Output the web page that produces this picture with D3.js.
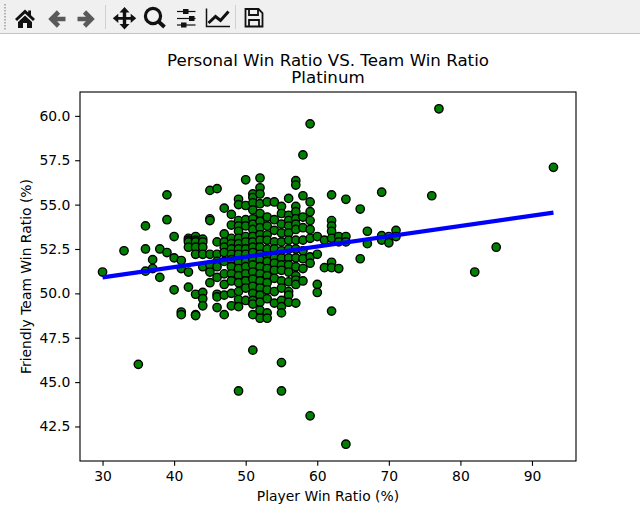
<!DOCTYPE html>
<html>
<head>
<meta charset="utf-8">
<script src="https://cdn.jsdelivr.net/npm/d3@7"></script>
<style>
    html, body { margin: 0; padding: 0; background: #fff; }
    svg { display: block; }
    text { font-family: "DejaVu Sans", sans-serif; fill: #000; }
</style>
</head>
<body>
<div id="chart"></div>
<script>
const chartTitle = ["Personal Win Ratio VS. Team Win Ratio", "Platinum"];
const xLabel = "Player Win Ratio (%)";
const yLabel = "Friendly Team Win Ratio (%)";
const xTicks = [30, 40, 50, 60, 70, 80, 90];
const yTicks = [42.5, 45, 47.5, 50, 52.5, 55, 57.5, 60];

// player win ratio, and the team win ratios read at that player ratio
const playerRatios = [30, 33, 35, 36, 37, 38, 39, 40, 41, 42, 43, 44, 45, 46, 47, 48, 49, 50, 51, 52, 53, 54, 55, 56, 57, 58, 59, 60, 61, 62, 63, 64, 66, 67, 69, 70, 71, 76, 77, 82, 85, 93];
const teamRatios = [
    [51.2],
    [52.4],
    [46],
    [53.8, 52.5, 51.25],
    [51.9, 51.4],
    [52.5, 50.9],
    [55.55, 54.15, 52.3],
    [53.2, 52, 50.2],
    [51.85, 51.4, 48.95, 48.8],
    [53.1, 53, 52.9, 52.6, 51.2, 50.35],
    [53.2, 53, 52.9, 52.6, 52.2, 49.95, 48.8, 48.75],
    [53.05, 52.9, 52.6, 52.2, 51.5, 50.05, 49.7, 49.3],
    [55.8, 54.2, 54.1, 52.2, 51.6, 51.2, 50.6],
    [55.9, 52.9, 52.2, 51.8, 51.5, 50.9, 49.95, 49.8, 49.2],
    [54.8, 53.35, 52.9, 52.6, 52.3, 51.8, 51.1, 50.5, 49.9, 48.8],
    [54.45, 53.85, 53.1, 52.8, 52.5, 52.2, 51.9, 51.5, 51.1, 50.7, 50, 49.3],
    [55.3, 55, 54.1, 53.8, 53.5, 53.1, 52.8, 52.5, 52.2, 51.8, 51.4, 51, 50.6, 50.1, 49.65, 49.25, 44.5],
    [56.4, 54.95, 54.15, 53.8, 53.2, 52.9, 52.5, 52.2, 51.8, 51.5, 51.1, 50.7, 50.3, 49.6],
    [55.6, 55.4, 55.1, 54.7, 54.2, 53.9, 53.6, 53.2, 52.9, 52.6, 52.3, 51.9, 51.6, 51.2, 50.8, 50.4, 50, 49.6, 49.4, 48.8, 46.8],
    [56.5, 55.95, 55.6, 55.05, 54.5, 54.05, 53.7, 53.3, 53, 52.6, 52.2, 51.9, 51.5, 51.1, 50.7, 50.3, 49.9, 49.5, 49.05, 48.6],
    [55.15, 54.3, 53.8, 53.3, 53, 52.5, 52.1, 51.8, 51.4, 51, 50.6, 50.2, 49.7, 48.9, 48.6],
    [55.15, 54.15, 53.55, 52.9, 52.5, 52, 51.7, 51.3, 50.85, 50.1, 49.45],
    [54.9, 54.5, 53.9, 53.4, 52.9, 52.4, 52, 51.6, 51.3, 50.7, 50.3, 49.6, 49.25, 48.9, 46.1, 44.5],
    [55.35, 54.4, 54.1, 53.8, 53.4, 53, 52.5, 52, 51.6, 51.2, 50.65, 50.1, 49.9, 49.5],
    [56.35, 56.1, 54.9, 54.6, 54.2, 53.9, 53.6, 53, 52.5, 52, 51.5, 51, 50.75, 50.5, 49.45],
    [57.8, 55.5, 54.3, 53.7, 53, 52.4, 51.95, 51.4, 50.7],
    [59.55, 55.15, 54.6, 54.1, 53.6, 53.1, 52.05, 51.7, 43.1],
    [53.2, 52.2, 50.5, 50.05],
    [53, 51.45],
    [55.55, 54.1, 53.8, 53.5, 53.1, 51.75, 51.45, 49],
    [53.2, 52.9, 51.4],
    [55.3, 53.2, 52.9, 41.5],
    [54.75, 51.95],
    [53.5, 52.8],
    [55.7, 53.25, 53],
    [53.2, 52.85],
    [53.55, 53.2],
    [55.5],
    [60.4],
    [51.2],
    [52.6],
    [57.1]
];
const trendX = [30, 93];
const trendY = [50.9, 54.55];

const WIDTH = 640;
const HEIGHT = 514;
const BAR_HEIGHT = 34;
const margin = {top: 92, right: 64, bottom: 53, left: 80};

const svg = d3.select("#chart").append("svg")
        .attr("width", WIDTH)
        .attr("height", HEIGHT);

drawToolbar();
drawPlot();

function drawPlot() {
    const x = d3.scaleLinear()
            .domain([26.85, 96.15])
            .range([margin.left, WIDTH - margin.right]);
    const y = d3.scaleLinear()
            .domain([40.555, 61.345])
            .range([HEIGHT - margin.bottom, margin.top]);

    const points = [];
    playerRatios.forEach(function(p, i) {
        teamRatios[i].forEach(function(t) {
            points.push([p, t]);
        });
    });

    svg.append("g").selectAll("circle")
            .data(points)
            .enter().append("circle")
            .attr("cx", function(d) { return x(d[0]); })
            .attr("cy", function(d) { return y(d[1]); })
            .attr("r", 4.17)
            .attr("fill", "green")
            .attr("stroke", "black")
            .attr("stroke-width", 1.39);

    const line = d3.line()
            .x(function(d) { return x(d); })
            .y(function(d, i) { return y(trendY[i]); });
    svg.append("path")
            .attr("d", line(trendX))
            .attr("fill", "none")
            .attr("stroke", "blue")
            .attr("stroke-width", 4.17);

    svg.append("rect")
            .attr("x", margin.left)
            .attr("y", margin.top)
            .attr("width", WIDTH - margin.left - margin.right)
            .attr("height", HEIGHT - margin.top - margin.bottom)
            .attr("fill", "none")
            .attr("stroke", "black")
            .attr("stroke-width", 1.11);

    const xAxis = d3.axisBottom(x)
            .tickValues(xTicks)
            .tickSize(4.86)
            .tickPadding(4.8)
            .tickFormat(d3.format("d"));
    const yAxis = d3.axisLeft(y)
            .tickValues(yTicks)
            .tickSize(4.86)
            .tickPadding(4.8)
            .tickFormat(d3.format(".1f"));
    const gx = svg.append("g")
            .attr("transform", "translate(0," + (HEIGHT - margin.bottom) + ")")
            .call(xAxis);
    const gy = svg.append("g")
            .attr("transform", "translate(" + margin.left + ",0)")
            .call(yAxis);
    [gx, gy].forEach(function(g) {
        g.select(".domain").remove();
        g.selectAll("line").attr("stroke-width", 1.11);
        g.selectAll("text")
                .style("font-family", '"DejaVu Sans", sans-serif')
                .style("font-size", "13.9px");
    });

    svg.selectAll(".title")
            .data(chartTitle)
            .enter().append("text")
            .attr("class", "title")
            .attr("x", 328)
            .attr("y", function(d, i) { return 66 + i*17; })
            .style("text-anchor", "middle")
            .style("font-size", "16.67px")
            .text(function(d) { return d; });
    svg.append("text")
            .attr("x", 328)
            .attr("y", 501)
            .style("text-anchor", "middle")
            .style("font-size", "13.9px")
            .text(xLabel);
    svg.append("text")
            .attr("transform", "translate(31,276.5) rotate(-90)")
            .style("text-anchor", "middle")
            .style("font-size", "13.9px")
            .text(yLabel);
}

function drawToolbar() {
    const bar = svg.append("g");
    bar.append("rect")
            .attr("width", WIDTH)
            .attr("height", BAR_HEIGHT)
            .attr("fill", "#f0f0f0");
    bar.append("line")
            .attr("x1", 0).attr("x2", WIDTH)
            .attr("y1", 33.5).attr("y2", 33.5)
            .attr("stroke", "#c4c4c4");
    // grip
    d3.range(4, 30, 3).forEach(function(v) {
        bar.append("rect")
                .attr("x", 4).attr("y", v)
                .attr("width", 2).attr("height", 1.5)
                .attr("fill", "#b0b0b0");
    });
    [105.5, 235.5].forEach(function(v) {
        bar.append("line")
                .attr("x1", v).attr("x2", v)
                .attr("y1", 5).attr("y2", 29)
                .attr("stroke", "#d0d0d0");
    });
    const dark = "#111";
    const grey = "#5a5a5a";
    // home
    bar.append("path")
            .attr("fill", dark)
            .attr("d", "M25 9.5L15 19L17 21L25 13.5L33 21L35 19L31 15.2V10.5H28.2V12.5ZM25 15.5L18 22V28H23V23H27V28H32V22Z");
    // back
    bar.append("path")
            .attr("fill", "none").attr("stroke", grey).attr("stroke-width", 4.6)
            .attr("d", "M65.5 19H52M58.5 12L51.5 19L58.5 26");
    // forward
    bar.append("path")
            .attr("fill", "none").attr("stroke", grey).attr("stroke-width", 4.6)
            .attr("d", "M77.5 19H91M84.5 12L91.5 19L84.5 26");
    // move
    bar.append("path")
            .attr("fill", dark)
            .attr("d", "M124.5 7L129.5 12.5H126.2V17H130.7V13.7L136.2 18.3L130.7 23V19.7H126.2V24H129.5L124.5 29.5L119.5 24H122.8V19.7H118.3V23L112.8 18.3L118.3 13.7V17H122.8V12.5H119.5Z");
    // zoom
    bar.append("circle")
            .attr("cx", 153).attr("cy", 16).attr("r", 7.6)
            .attr("fill", "none").attr("stroke", dark).attr("stroke-width", 3.2);
    bar.append("line")
            .attr("x1", 158.5).attr("y1", 21.5).attr("x2", 164.5).attr("y2", 27)
            .attr("stroke", dark).attr("stroke-width", 3.8);
    // configure
    [[11.5, 183], [18.5, 189], [25, 181]].forEach(function(s) {
        bar.append("line")
                .attr("x1", 177).attr("x2", 195.5)
                .attr("y1", s[0]).attr("y2", s[0])
                .attr("stroke", dark).attr("stroke-width", 1.2);
        bar.append("rect")
                .attr("x", s[1]).attr("y", s[0] - 2.5)
                .attr("width", 5.5).attr("height", 5)
                .attr("fill", dark);
    });
    // edit curves
    bar.append("path")
            .attr("fill", "none").attr("stroke", dark).attr("stroke-width", 1.5)
            .attr("d", "M206.5 8.5V26.5H230");
    bar.append("path")
            .attr("fill", "none").attr("stroke", dark).attr("stroke-width", 3)
            .attr("d", "M208.5 23L215.5 16.5L220.5 20.5L228.5 11.5");
    // save
    bar.append("path")
            .attr("fill", "none").attr("stroke", dark).attr("stroke-width", 1.8)
            .attr("d", "M245.5 9H258.5L262.5 13V26.5H245.5ZM249 9V15H258V9M249 26.5V20H259V26.5");
}
</script>
</body>
</html>
